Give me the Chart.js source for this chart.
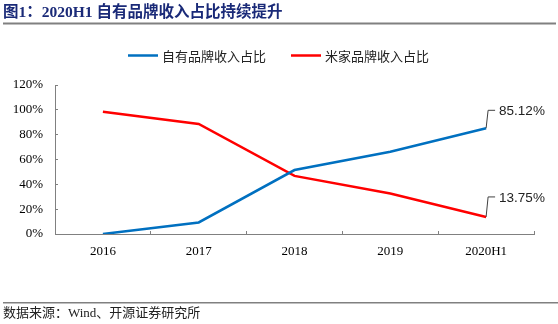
<!DOCTYPE html>
<html>
<head>
<meta charset="utf-8">
<script src="https://cdn.jsdelivr.net/npm/chart.js@4"></script>
<style>
body { margin: 0; background: #fff; }
canvas { display: block; }
</style>
</head>
<body>
<canvas id="chart1" width="558" height="324"></canvas>
<script>
// data (percent)
const periods = ['2016', '2017', '2018', '2019', '2020H1'];
const ownBrandShare = [0, 9.3, 51.5, 66.3, 85.12];
const mijiaShare = [98.5, 88.6, 46.8, 32.6, 13.75];
const seriesNames = ['自有品牌收入占比', '米家品牌收入占比'];

const serif = "'Liberation Serif', 'Noto Sans CJK SC', serif";
const cjk = "'Noto Sans CJK SC', sans-serif";

// title, rules, legend, source line and end-of-line callouts
const decorations = {
    id: 'decorations',
    beforeDraw(chart) {
        const c = chart.ctx;
        c.save();
        c.fillStyle = '#fff';
        c.fillRect(0, 0, chart.width, chart.height);
        c.restore();
    },
    afterDraw(chart) {
        const c = chart.ctx;
        c.save();
        c.textBaseline = 'middle';
        c.textAlign = 'left';

        // title
        c.fillStyle = '#1a2a78';
        c.font = 'bold 15.5px ' + serif;
        c.fillText('图1：2020H1 自有品牌收入占比持续提升', 3, 13);

        // rules
        c.fillStyle = '#808080';
        c.fillRect(3, 22.5, 553, 2);
        c.fillRect(3, 302, 555, 1.5);

        // source
        c.fillStyle = '#222';
        c.font = '13px ' + serif;
        c.fillText('数据来源：Wind、开源证券研究所', 3, 313.5);

        // legend
        const legendX = [128, 291];
        chart.data.datasets.forEach((ds, i) => {
            const x = legendX[i];
            c.strokeStyle = ds.borderColor;
            c.lineWidth = 2.5;
            c.beginPath();
            c.moveTo(x, 55.5);
            c.lineTo(x + 30, 55.5);
            c.stroke();
            c.fillStyle = '#222';
            c.font = '13px ' + cjk;
            c.fillText(ds.label, x + 34, 56);
        });

        // callouts on the last point
        const rise = [18, 20];
        chart.data.datasets.forEach((ds, i) => {
            const meta = chart.getDatasetMeta(i);
            const pt = meta.data[meta.data.length - 1];
            const v = ds.data[ds.data.length - 1];
            const ty = pt.y - rise[i];
            c.strokeStyle = '#404040';
            c.lineWidth = 1;
            c.beginPath();
            c.moveTo(pt.x, pt.y);
            c.lineTo(pt.x + 2, ty);
            c.lineTo(pt.x + 9, ty);
            c.stroke();
            c.fillStyle = '#222';
            c.font = '13.5px "Liberation Sans", sans-serif';
            c.fillText(v.toFixed(2) + '%', pt.x + 13, ty + 1);
        });
        c.restore();
    }
};

// viz 1
const ctx = document.getElementById('chart1');
new Chart(ctx, {
    type: 'line',
    data: {
        labels: periods,
        datasets: [{
            label: seriesNames[0],
            data: ownBrandShare,
            borderColor: '#0070c0',
            borderWidth: 2.5,
            pointRadius: 0,
            fill: false,
            tension: 0
        }, {
            label: seriesNames[1],
            data: mijiaShare,
            borderColor: '#ff0000',
            borderWidth: 2.5,
            pointRadius: 0,
            fill: false,
            tension: 0
        }]
    },
    options: {
        responsive: false,
        animation: false,
        devicePixelRatio: 1,
        layout: {
            padding: { top: 85, left: 0, right: 24, bottom: 0 }
        },
        plugins: {
            legend: { display: false },
            title: { display: false },
            tooltip: { enabled: false }
        },
        scales: {
            x: {
                offset: true,
                grid: {
                    offset: true,
                    drawOnChartArea: false,
                    tickLength: -3,
                    color: '#808080'
                },
                border: { color: '#808080', width: 1 },
                ticks: {
                    padding: 13,
                    color: '#000',
                    font: { family: serif, size: 13 }
                },
                afterFit(scale) { scale.height = 90; }
            },
            y: {
                min: 0,
                max: 120,
                grid: {
                    drawOnChartArea: false,
                    tickLength: -3,
                    color: '#808080'
                },
                border: { color: '#808080', width: 1 },
                ticks: {
                    stepSize: 20,
                    padding: 15,
                    color: '#000',
                    font: { family: serif, size: 13 },
                    callback: (v) => v + '%'
                },
                afterFit(scale) { scale.width = 55; }
            }
        }
    },
    plugins: [decorations]
});
</script>
</body>
</html>
